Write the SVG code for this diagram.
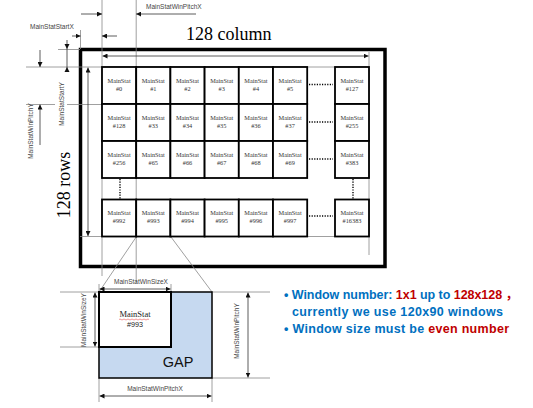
<svg xmlns="http://www.w3.org/2000/svg" width="533" height="408" viewBox="0 0 533 408">
<defs>
<marker id="ah" viewBox="0 0 10 10" refX="10" refY="5" markerWidth="5" markerHeight="5" markerUnits="userSpaceOnUse" orient="auto-start-reverse"><path d="M0,0 L10,5 L0,10 z" fill="#111"/></marker>
</defs>
<style>
.cell rect{fill:#fff;stroke:#000;stroke-width:1.8}
.cell text{font-family:"Liberation Serif",serif;font-size:6.3px;fill:#333;text-anchor:middle}
.dim{stroke:#333;stroke-width:0.8;fill:none}
.arr{stroke:#333;stroke-width:0.8;fill:none;marker-end:url(#ah)}
.arr2{stroke:#333;stroke-width:0.8;fill:none;marker-end:url(#ah);marker-start:url(#ah)}
.ext{stroke:#888;stroke-width:0.8;fill:none}
.lbl{font-family:"Liberation Sans",Arial,sans-serif;font-size:6.5px;fill:#444}
.dots{stroke:#000;stroke-width:1.4;stroke-dasharray:1.2 1.4;fill:none}
.big{font-family:"Liberation Serif",serif;font-size:18px;fill:#000}
.note{font-family:"Liberation Sans",Arial,"Noto Sans CJK SC",sans-serif;font-size:12.5px;font-weight:bold;fill:#0070C0}
.red{fill:#C00000}
</style>

<g id="frame">
<rect x="80.5" y="49.5" width="304.5" height="217" fill="#fff" stroke="#000" stroke-width="3.5"/>
</g>

<g id="connectors">
<line class="ext" x1="102" y1="0" x2="102" y2="276"/>
<line class="ext" x1="136.2" y1="0" x2="136.2" y2="283"/>
<line class="ext" x1="369" y1="52" x2="369" y2="255"/>
<line class="ext" x1="26" y1="67" x2="369" y2="67"/>
<line class="ext" x1="26" y1="104.5" x2="55" y2="104.5"/>
<line class="ext" x1="67" y1="104.5" x2="102" y2="104.5"/>
<line class="ext" x1="80" y1="236.5" x2="369" y2="236.5"/>
<line class="ext" x1="58" y1="49.5" x2="80" y2="49.5"/>
<line class="ext" x1="80.5" y1="30" x2="80.5" y2="49"/>
<line class="arr" x1="81" y1="14" x2="102" y2="14"/>
<line class="arr" x1="196" y1="14" x2="136.2" y2="14"/>
<line class="arr" x1="72" y1="36" x2="80.5" y2="36"/>
<line class="arr" x1="117" y1="36" x2="102" y2="36"/>
<line class="dim" x1="67" y1="40" x2="67" y2="72"/>
<path d="M64.5,44 L69.5,44 L67,49 z" fill="#111"/>
<path d="M64.5,72 L69.5,72 L67,67 z" fill="#111"/>
<line class="arr" x1="40" y1="50" x2="40" y2="67"/>
<line class="arr" x1="40" y1="145" x2="40" y2="104.5"/>
<line class="arr2" x1="102.5" y1="56" x2="368.5" y2="56"/>
<line class="arr2" x1="88" y1="67.5" x2="88" y2="236"/>
<line class="dots" x1="309" y1="84.5" x2="333" y2="84.5"/>
<line class="dots" x1="309" y1="122" x2="333" y2="122"/>
<line class="dots" x1="309" y1="159" x2="333" y2="159"/>
<line class="dots" x1="309" y1="216" x2="333" y2="216"/>
<line class="dots" x1="120" y1="179" x2="120" y2="199"/>
<line class="dots" x1="353" y1="179" x2="353" y2="199"/>
<line class="ext" x1="136.2" y1="237" x2="99" y2="292" stroke="#666"/>
<line class="ext" x1="171" y1="237" x2="212" y2="292" stroke="#666"/>
<line class="ext" x1="99" y1="284" x2="99" y2="292"/>
<line class="ext" x1="171" y1="284" x2="171" y2="292"/>
<line class="arr2" x1="99.5" y1="289" x2="170.5" y2="289"/>
<line class="ext" x1="60" y1="292" x2="99" y2="292"/>
<line class="ext" x1="60" y1="347" x2="99" y2="347"/>
<line class="arr2" x1="95" y1="292.5" x2="95" y2="346.5"/>
<line class="ext" x1="212" y1="292" x2="270" y2="292"/>
<line class="ext" x1="212" y1="378" x2="270" y2="378"/>
<line class="arr2" x1="248" y1="292.5" x2="248" y2="377.5"/>
<line class="ext" x1="99" y1="378" x2="99" y2="402"/>
<line class="ext" x1="212" y1="378" x2="212" y2="402"/>
<line class="arr2" x1="99.5" y1="396" x2="211.5" y2="396"/>
</g>

<g id="dim-labels">
<text class="lbl" x="146" y="9">MainStatWinPitchX</text>
<text class="lbl" x="30" y="29">MainStatStartX</text>
<text class="lbl" transform="translate(63.5,104) rotate(-90)" text-anchor="middle">MainStatStartY</text>
<text class="lbl" transform="translate(32.5,131) rotate(-90)" text-anchor="middle">MainStatWinPitchY</text>
<text class="lbl" x="141" y="284" text-anchor="middle">MainStatWinSizeX</text>
<text class="lbl" transform="translate(85.5,320) rotate(-90)" text-anchor="middle">MainStatWinSizeY</text>
<text class="lbl" transform="translate(238.5,331) rotate(-90)" text-anchor="middle">MainStatWinPitchY</text>
<text class="lbl" x="155" y="391" text-anchor="middle">MainStatWinPitchX</text>
</g>

<g id="title-column"><text class="big" x="186" y="40">128 column</text></g>
<g id="title-rows"><text class="big" transform="translate(69.5,185) rotate(-90)" text-anchor="middle">128 rows</text></g>

<g id="cell-0"  class="cell"><rect x="102" y="67" width="34.2" height="37"/><text x="119.1" y="83">MainStat</text><text x="119.1" y="90.5">#0</text></g>
<g id="cell-1"  class="cell"><rect x="136.2" y="67" width="34.2" height="37"/><text x="153.3" y="83">MainStat</text><text x="153.3" y="90.5">#1</text></g>
<g id="cell-2"  class="cell"><rect x="170.4" y="67" width="34.2" height="37"/><text x="187.5" y="83">MainStat</text><text x="187.5" y="90.5">#2</text></g>
<g id="cell-3"  class="cell"><rect x="204.6" y="67" width="34.2" height="37"/><text x="221.7" y="83">MainStat</text><text x="221.7" y="90.5">#3</text></g>
<g id="cell-4"  class="cell"><rect x="238.8" y="67" width="34.2" height="37"/><text x="255.9" y="83">MainStat</text><text x="255.9" y="90.5">#4</text></g>
<g id="cell-5"  class="cell"><rect x="273" y="67" width="34.2" height="37"/><text x="290.1" y="83">MainStat</text><text x="290.1" y="90.5">#5</text></g>
<g id="cell-127" class="cell"><rect x="335" y="67" width="34" height="37"/><text x="352" y="83">MainStat</text><text x="352" y="90.5">#127</text></g>

<g id="cell-128" class="cell"><rect x="102" y="104" width="34.2" height="37"/><text x="119.1" y="120">MainStat</text><text x="119.1" y="127.5">#128</text></g>
<g id="cell-33" class="cell"><rect x="136.2" y="104" width="34.2" height="37"/><text x="153.3" y="120">MainStat</text><text x="153.3" y="127.5">#33</text></g>
<g id="cell-34" class="cell"><rect x="170.4" y="104" width="34.2" height="37"/><text x="187.5" y="120">MainStat</text><text x="187.5" y="127.5">#34</text></g>
<g id="cell-35" class="cell"><rect x="204.6" y="104" width="34.2" height="37"/><text x="221.7" y="120">MainStat</text><text x="221.7" y="127.5">#35</text></g>
<g id="cell-36" class="cell"><rect x="238.8" y="104" width="34.2" height="37"/><text x="255.9" y="120">MainStat</text><text x="255.9" y="127.5">#36</text></g>
<g id="cell-37" class="cell"><rect x="273" y="104" width="34.2" height="37"/><text x="290.1" y="120">MainStat</text><text x="290.1" y="127.5">#37</text></g>
<g id="cell-255" class="cell"><rect x="335" y="104" width="34" height="37"/><text x="352" y="120">MainStat</text><text x="352" y="127.5">#255</text></g>

<g id="cell-256" class="cell"><rect x="102" y="141" width="34.2" height="37"/><text x="119.1" y="157">MainStat</text><text x="119.1" y="164.5">#256</text></g>
<g id="cell-65" class="cell"><rect x="136.2" y="141" width="34.2" height="37"/><text x="153.3" y="157">MainStat</text><text x="153.3" y="164.5">#65</text></g>
<g id="cell-66" class="cell"><rect x="170.4" y="141" width="34.2" height="37"/><text x="187.5" y="157">MainStat</text><text x="187.5" y="164.5">#66</text></g>
<g id="cell-67" class="cell"><rect x="204.6" y="141" width="34.2" height="37"/><text x="221.7" y="157">MainStat</text><text x="221.7" y="164.5">#67</text></g>
<g id="cell-68" class="cell"><rect x="238.8" y="141" width="34.2" height="37"/><text x="255.9" y="157">MainStat</text><text x="255.9" y="164.5">#68</text></g>
<g id="cell-69" class="cell"><rect x="273" y="141" width="34.2" height="37"/><text x="290.1" y="157">MainStat</text><text x="290.1" y="164.5">#69</text></g>
<g id="cell-383" class="cell"><rect x="335" y="141" width="34" height="37"/><text x="352" y="157">MainStat</text><text x="352" y="164.5">#383</text></g>

<g id="cell-992" class="cell"><rect x="102" y="199.5" width="34.2" height="37"/><text x="119.1" y="215">MainStat</text><text x="119.1" y="222.5">#992</text></g>
<g id="cell-993" class="cell"><rect x="136.2" y="199.5" width="34.2" height="37"/><text x="153.3" y="215">MainStat</text><text x="153.3" y="222.5">#993</text></g>
<g id="cell-994" class="cell"><rect x="170.4" y="199.5" width="34.2" height="37"/><text x="187.5" y="215">MainStat</text><text x="187.5" y="222.5">#994</text></g>
<g id="cell-995" class="cell"><rect x="204.6" y="199.5" width="34.2" height="37"/><text x="221.7" y="215">MainStat</text><text x="221.7" y="222.5">#995</text></g>
<g id="cell-996" class="cell"><rect x="238.8" y="199.5" width="34.2" height="37"/><text x="255.9" y="215">MainStat</text><text x="255.9" y="222.5">#996</text></g>
<g id="cell-997" class="cell"><rect x="273" y="199.5" width="34.2" height="37"/><text x="290.1" y="215">MainStat</text><text x="290.1" y="222.5">#997</text></g>
<g id="cell-16383" class="cell"><rect x="335" y="199.5" width="34" height="37"/><text x="352" y="215">MainStat</text><text x="352" y="222.5">#16383</text></g>

<g id="detail">
<rect x="99" y="292" width="113" height="86" fill="#C6D9F0" stroke="#000" stroke-width="1.5"/>
<rect x="99" y="292" width="72" height="55" fill="#fff" stroke="#000" stroke-width="2"/>
<text x="135" y="317" text-anchor="middle" font-family="'Liberation Serif',serif" font-size="8.5px" fill="#222">MainStat</text>
<path d="M119,319.5 q1,-1 2,0 t2,0 t2,0 t2,0 t2,0 t2,0 t2,0 t2,0 t2,0 t2,0 t2,0 t2,0 t2,0 t2,0 t2,0" fill="none" stroke="#E03030" stroke-width="0.5"/>
<text x="135" y="327" text-anchor="middle" font-family="'Liberation Sans',Arial,sans-serif" font-size="7.2px" fill="#222">#993</text>
<text x="178" y="367" text-anchor="middle" font-family="'Liberation Sans',Arial,sans-serif" font-size="14.5px" fill="#111">GAP</text>
</g>

<g id="notes">
<text class="note" x="284" y="299" textLength="234" lengthAdjust="spacing">• Window number: <tspan class="red">1x1</tspan> up to <tspan class="red">128x128 ，</tspan></text>
<text class="note" x="292" y="316" textLength="211" lengthAdjust="spacing">currently we use 120x90 windows</text>
<text class="note" x="284" y="333" textLength="225" lengthAdjust="spacing">• Window size must be <tspan class="red">even number</tspan></text>
</g>
</svg>
